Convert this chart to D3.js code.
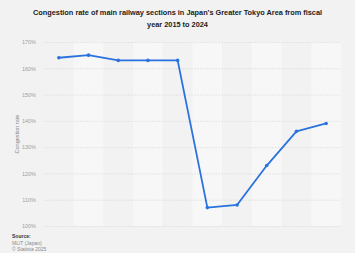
<!DOCTYPE html>
<html lang="en">
<head>
  <meta charset="UTF-8">
  <script src="https://d3js.org/d3.v7.min.js"></script>
  <title>Congestion rate Tokyo</title>
  <style>
    body { margin: 0; background: #f2f2f2; }
    svg { display: block; font-family: "Liberation Sans", Arial, sans-serif; }
  </style>
</head>
<body>
  <svg width="355" height="253"></svg>
  <script>
    const years = ["2015", "2016", "2017", "2018", "2019", "2020", "2021", "2022", "2023", "2024"];
    const congestion = [164, 165, 163, 163, 163, 107, 108, 123, 136, 139];
    const yTicks = [100, 110, 120, 130, 140, 150, 160, 170];

    const svg = d3.select("svg");

    // 플롯 영역
    const plotLeft = 44, plotRight = 341, plotTop = 42, plotBottom = 226;

    const x = d3.scaleBand().domain(years).range([plotLeft, plotRight]);
    const y = d3.scaleLinear().domain([100, 170]).range([plotBottom, plotTop]);

    svg.append("rect").attr("width", 355).attr("height", 253).attr("fill", "#f2f2f2");

    // 번갈아 칠한 칸
    svg.selectAll("rect.band")
      .data(years)
      .enter()
      .append("rect")
      .attr("class", "band")
      .attr("x", d => x(d))
      .attr("y", plotTop)
      .attr("width", x.bandwidth())
      .attr("height", plotBottom - plotTop)
      .attr("fill", (d, i) => i % 2 ? "#f7f7f7" : "#f2f2f2");

    const yAxis = d3.axisLeft(y)
      .tickValues(yTicks)
      .tickSize(-(plotRight - plotLeft))
      .tickPadding(8)
      .tickFormat(d => d + "%");

    const yAxisG = svg.append("g")
      .attr("transform", `translate(${plotLeft},0)`)
      .call(yAxis);
    yAxisG.select(".domain").remove();
    yAxisG.selectAll(".tick line")
      .attr("stroke", "#d8d8d8")
      .attr("stroke-width", 0.6)
      .attr("stroke-dasharray", "2,1");
    yAxisG.selectAll(".tick text")
      .attr("fill", "#a0a0a0")
      .attr("font-size", 5.5);

    const line = d3.line()
      .x((d, i) => x(years[i]) + x.bandwidth() / 2)
      .y(d => y(d));

    svg.append("path")
      .attr("d", line(congestion))
      .attr("fill", "none")
      .attr("stroke", "#2a73de")
      .attr("stroke-width", 1.8)
      .attr("stroke-linejoin", "round");

    svg.selectAll("circle.pt")
      .data(congestion)
      .enter()
      .append("circle")
      .attr("class", "pt")
      .attr("cx", (d, i) => x(years[i]) + x.bandwidth() / 2)
      .attr("cy", d => y(d))
      .attr("r", 1.8)
      .attr("fill", "#2a73de");

    // 제목
    const title = svg.append("text")
      .attr("x", 177.5)
      .attr("text-anchor", "middle")
      .attr("font-weight", "bold")
      .attr("font-size", 7.35)
      .attr("fill", "#222");
    title.append("tspan").attr("x", 177.5).attr("y", 15)
      .text("Congestion rate of main railway sections in Japan\u2019s Greater Tokyo Area from fiscal");
    title.append("tspan").attr("x", 177.5).attr("y", 26.5)
      .text("year 2015 to 2024");

    svg.append("text")
      .attr("transform", `translate(19,${(plotTop + plotBottom) / 2}) rotate(-90)`)
      .attr("text-anchor", "middle")
      .attr("font-size", 5.5)
      .attr("fill", "#8a8a8a")
      .text("Congestion rate");

    svg.append("text").attr("x", 12).attr("y", 238)
      .attr("font-size", 5).attr("font-weight", "bold").attr("fill", "#333").text("Source:");
    svg.append("text").attr("x", 12).attr("y", 244.5)
      .attr("font-size", 5).attr("fill", "#8a8a8a").text("MLIT (Japan)");
    svg.append("text").attr("x", 12).attr("y", 251)
      .attr("font-size", 5).attr("fill", "#8a8a8a").text("\u00a9 Statista 2025");
  </script>
</body>
</html>
